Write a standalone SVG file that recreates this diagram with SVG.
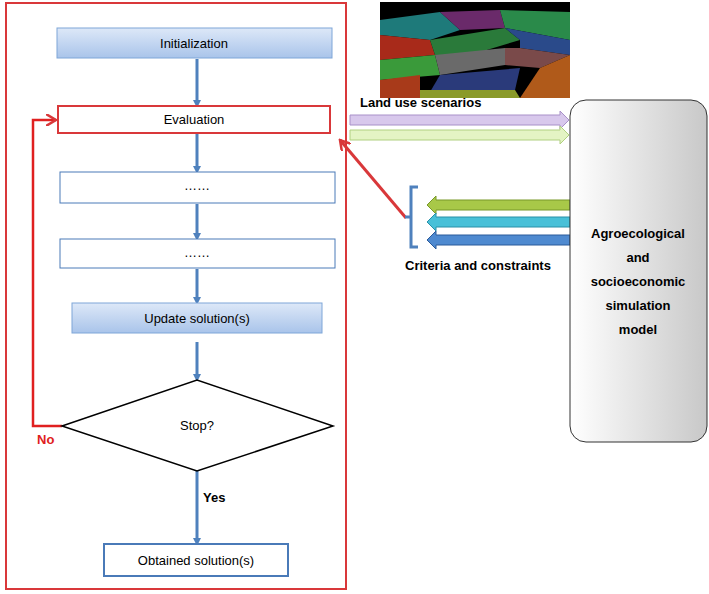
<svg xmlns="http://www.w3.org/2000/svg" width="709" height="594" viewBox="0 0 709 594">
<style>
text{font-family:"Liberation Sans",Arial,sans-serif;font-size:13px;fill:#000}
.b{font-weight:bold}
.box{fill:url(#bg);stroke:#7ea6d8;stroke-width:1}
.wb{fill:#fff;stroke:#4a7ab8;stroke-width:1}
.va{stroke:#4f81bd;stroke-width:3;fill:none;marker-end:url(#ba)}
</style>
<defs>
<linearGradient id="bg" x1="0" y1="0" x2="0" y2="1"><stop offset="0" stop-color="#dde8f8"/><stop offset="1" stop-color="#a9c4ea"/></linearGradient>
<linearGradient id="gg" x1="0" y1="0" x2="1" y2="0"><stop offset="0" stop-color="#ffffff"/><stop offset="1" stop-color="#c8c8c8"/></linearGradient>
<marker id="ba" markerWidth="8" markerHeight="8" refX="4" refY="4" orient="auto" markerUnits="userSpaceOnUse" viewBox="0 0 8 8"><path d="M0,0 L8,4 L0,8 z" fill="#4f81bd"/></marker>
<marker id="ra" markerWidth="12" markerHeight="12" refX="10" refY="6" orient="auto" markerUnits="userSpaceOnUse"><path d="M0,0 L10,6 L0,12" fill="none" stroke="#d9383a" stroke-width="2.5"/></marker>
</defs>
<g id="scenario-image">
<rect x="380" y="2" width="190" height="96" fill="#000"/>
<polygon points="380,20 440,12 460,30 430,40 380,35" fill="#1e7a7a"/>
<polygon points="440,12 500,10 505,28 460,30" fill="#6a2a6a"/>
<polygon points="500,10 570,12 570,40 505,28" fill="#2a8a4a"/>
<polygon points="380,35 430,40 435,55 380,60" fill="#a82a1a"/>
<polygon points="430,40 505,28 520,40 470,55 435,55" fill="#2a7a3a"/>
<polygon points="505,28 570,40 570,55 520,48 520,40" fill="#2a4a8a"/>
<polygon points="380,60 435,55 440,75 380,80" fill="#3a9a3a"/>
<polygon points="435,55 505,48 505,65 440,75" fill="#6a6a6a"/>
<polygon points="505,48 520,48 570,55 540,68 505,65" fill="#7a4a4a"/>
<polygon points="540,68 570,55 570,98 520,98" fill="#b05a1a"/>
<polygon points="380,80 420,75 420,98 380,98" fill="#a83a1a"/>
<polygon points="440,75 520,68 515,90 430,92" fill="#2a3a7a"/>
<polygon points="420,90 515,90 520,98 420,98" fill="#8a9a2a"/>
</g>
<g id="frame"><rect x="6" y="3" width="340" height="586" fill="none" stroke="#d9383a" stroke-width="2"/></g>
<g id="connectors">
<line x1="197" y1="59" x2="197" y2="104" class="va"/>
<line x1="197" y1="134" x2="197" y2="170" class="va"/>
<line x1="197" y1="204" x2="197" y2="237" class="va"/>
<line x1="197" y1="269" x2="197" y2="301" class="va"/>
<line x1="197" y1="342" x2="197" y2="378" class="va"/>
<line x1="197" y1="471" x2="197" y2="542" class="va"/>
<polyline points="62,426 33,426 33,120 56,120" fill="none" stroke="#e02020" stroke-width="2.5" marker-end="url(#ra)"/>
<line x1="406" y1="218" x2="340" y2="140" stroke="#d9383a" stroke-width="3" marker-end="url(#ra)"/>
<path d="M350,115 H560 V111 L569,120 L560,129 V125 H350 Z" fill="#d8c8ec" stroke="#a890c8"/>
<path d="M350,130 H560 V126 L569,135 L560,144 V140 H350 Z" fill="#e4f4c4" stroke="#b0d080"/>
<path d="M570,200 H436 V196 L427,205 L436,214 V210 H570 Z" fill="#a8c848" stroke="#789828"/>
<path d="M570,217 H436 V213 L427,222 L436,231 V227 H570 Z" fill="#48c0d8" stroke="#2890a8"/>
<path d="M570,235 H436 V231 L427,240 L436,249 V245 H570 Z" fill="#4f8ad0" stroke="#2a5a9a"/>
<path d="M418,187 H411 V247 H418 M411,217 H405" fill="none" stroke="#4f81bd" stroke-width="3"/>
</g>
<g id="initialization"><rect class="box" x="57" y="28" width="275" height="30"/><text x="194" y="48" text-anchor="middle">Initialization</text></g>
<g id="evaluation"><rect x="58" y="106" width="272" height="27" fill="#fff" stroke="#d9383a" stroke-width="2"/><text x="194" y="124" text-anchor="middle">Evaluation</text></g>
<g id="step1"><rect class="wb" x="60" y="172" width="275" height="31"/><text x="197" y="190" text-anchor="middle">……</text></g>
<g id="step2"><rect class="wb" x="60" y="239" width="275" height="29"/><text x="197" y="257" text-anchor="middle">……</text></g>
<g id="update"><rect class="box" x="72" y="303" width="250" height="30"/><text x="197" y="323" text-anchor="middle">Update solution(s)</text></g>
<g id="stop"><polygon points="62,426 197,380 333,426 197,471" fill="#fff" stroke="#000" stroke-width="1.5"/><text x="197" y="430" text-anchor="middle">Stop?</text></g>
<g id="obtained"><rect x="104" y="544" width="184" height="32" fill="#fff" stroke="#4a7ab8" stroke-width="2"/><text x="196" y="565" text-anchor="middle">Obtained solution(s)</text></g>
<g id="model"><rect x="570" y="100" width="137" height="342" rx="16" fill="url(#gg)" stroke="#333"/>
<text class="b" text-anchor="middle" x="638" y="238">Agroecological</text>
<text class="b" text-anchor="middle" x="638" y="262">and</text>
<text class="b" text-anchor="middle" x="638" y="286">socioeconomic</text>
<text class="b" text-anchor="middle" x="638" y="310">simulation</text>
<text class="b" text-anchor="middle" x="638" y="334">model</text></g>
<g id="labels">
<text class="b" x="360" y="107">Land use scenarios</text>
<text class="b" x="405" y="270">Criteria and constraints</text>
<text class="b" x="37" y="444" style="fill:#e02020">No</text>
<text class="b" x="203" y="502">Yes</text>
</g>
</svg>
